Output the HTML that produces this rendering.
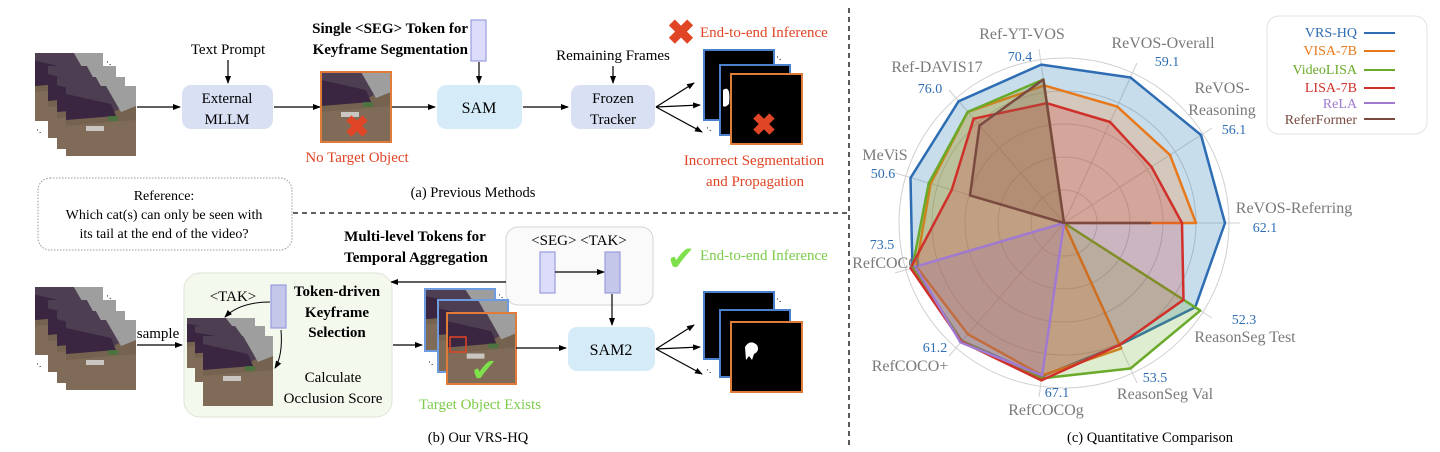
<!DOCTYPE html>
<html><head><meta charset="utf-8"><style>
html,body{margin:0;padding:0;background:#fff;}
svg{display:block;}
text{font-family:"Liberation Serif",serif;}
</style></head><body>
<svg width="1440" height="452" viewBox="0 0 1440 452" xmlns="http://www.w3.org/2000/svg">
<defs>
<marker id="ar" markerWidth="8" markerHeight="8" refX="7" refY="4" orient="auto" markerUnits="userSpaceOnUse"><path d="M0,1 L8,4 L0,7 z" fill="#000"/></marker>
<symbol id="fr" viewBox="0 0 70 70" preserveAspectRatio="none">
<rect width="70" height="70" fill="#76634f"/>
<path d="M0,0 H70 V14 L40,30 L0,34 z" fill="#4e3e52"/>
<path d="M0,8 L45,18 L50,30 L0,34 z" fill="#3a2640"/>
<path d="M40,0 H70 V20 L55,26 z" fill="#9e9e9e"/>
<path d="M0,40 L70,34 V70 H0 z" fill="#7f6b58"/>
<rect x="20" y="40" width="18" height="5" fill="#ddd" opacity=".8"/>
<rect x="42" y="30" width="10" height="5" fill="#3a7a3a" opacity=".7"/>
</symbol>
</defs>

<line x1="293" y1="213" x2="849" y2="213" stroke="#000" stroke-width="1.3" stroke-dasharray="5,4"/>
<line x1="849" y1="8" x2="849" y2="448" stroke="#000" stroke-width="1.3" stroke-dasharray="5,4"/>

<g>
<use href="#fr" x="35" y="53" width="68" height="68"/>
<use href="#fr" x="48" y="66" width="68" height="72"/>
<use href="#fr" x="57" y="77" width="68" height="72"/>
<use href="#fr" x="66" y="86" width="70" height="70"/>
<text x="106" y="65" font-size="9">·.</text><text x="36" y="133" font-size="9">·.</text>
</g>
<line x1="137" y1="107" x2="180" y2="107" stroke="#000" stroke-width="1.2" marker-end="url(#ar)"/>
<text x="228" y="54" font-size="15" text-anchor="middle">Text Prompt</text>
<line x1="228" y1="60" x2="228" y2="83" stroke="#000" stroke-width="1.2" marker-end="url(#ar)"/>
<rect x="182" y="85" width="91" height="44" rx="9" fill="#d9e0f3"/>
<text x="227" y="103" font-size="15" text-anchor="middle">External</text>
<text x="227" y="124" font-size="15" text-anchor="middle">MLLM</text>
<line x1="274" y1="107" x2="320" y2="107" stroke="#000" stroke-width="1.2" marker-end="url(#ar)"/>
<use href="#fr" x="321" y="72" width="70" height="70"/>
<rect x="321" y="72" width="70" height="70" fill="none" stroke="#e07b3a" stroke-width="2"/>
<text x="357" y="137" font-size="30" font-weight="bold" fill="#e04525" text-anchor="middle" font-family="Liberation Sans">✖</text>
<text x="357" y="162" font-size="15" fill="#e04525" text-anchor="middle">No Target Object</text>
<text x="468" y="33" font-size="15" font-weight="bold" text-anchor="end">Single &lt;SEG&gt; Token for</text>
<text x="468" y="54" font-size="15" font-weight="bold" text-anchor="end">Keyframe Segmentation</text>
<rect x="471" y="20" width="15" height="41" fill="#dcdcfb" stroke="#9a9de0" stroke-width="1.2"/>
<line x1="479" y1="62" x2="479" y2="83" stroke="#000" stroke-width="1.2" marker-end="url(#ar)"/>
<line x1="392" y1="107" x2="435" y2="107" stroke="#000" stroke-width="1.2" marker-end="url(#ar)"/>
<rect x="437" y="85" width="85" height="44" rx="9" fill="#d5ebf8"/>
<text x="479" y="113" font-size="16" text-anchor="middle">SAM</text>
<line x1="523" y1="107" x2="568" y2="107" stroke="#000" stroke-width="1.2" marker-end="url(#ar)"/>
<text x="613" y="60" font-size="15" text-anchor="middle">Remaining Frames</text>
<line x1="613" y1="66" x2="613" y2="83" stroke="#000" stroke-width="1.2" marker-end="url(#ar)"/>
<rect x="571" y="85" width="84" height="44" rx="9" fill="#d9e0f3"/>
<text x="613" y="103" font-size="15" text-anchor="middle">Frozen</text>
<text x="613" y="124" font-size="15" text-anchor="middle">Tracker</text>
<line x1="656" y1="107" x2="694" y2="83" stroke="#000" stroke-width="1.2" marker-end="url(#ar)"/>
<line x1="656" y1="107" x2="700" y2="105" stroke="#000" stroke-width="1.2" marker-end="url(#ar)"/>
<line x1="656" y1="107" x2="702" y2="132" stroke="#000" stroke-width="1.2" marker-end="url(#ar)"/>
<rect x="704" y="50" width="70" height="70" fill="#000" stroke="#4a80cc" stroke-width="2"/>
<rect x="720" y="65" width="70" height="70" fill="#000" stroke="#4a80cc" stroke-width="2"/>
<path d="M723,90 q8,-6 6,14 q-4,4 -6,2z" fill="#fff"/>
<rect x="731" y="74" width="71" height="70" fill="#000" stroke="#e07b3a" stroke-width="2"/>
<text x="764" y="135" font-size="30" font-weight="bold" fill="#e04525" text-anchor="middle" font-family="Liberation Sans">✖</text>
<text x="776" y="60" font-size="9">·.</text><text x="706" y="131" font-size="9">·.</text>
<text x="681" y="44" font-size="34" font-weight="bold" fill="#e04525" text-anchor="middle" font-family="Liberation Sans">✖</text>
<text x="700" y="37" font-size="15" fill="#e04525">End-to-end Inference</text>
<text x="754" y="165" font-size="15" fill="#e04525" text-anchor="middle">Incorrect Segmentation</text>
<text x="755" y="186" font-size="15" fill="#e04525" text-anchor="middle">and Propagation</text>
<text x="473" y="197" font-size="14.5" text-anchor="middle">(a) Previous Methods</text>

<rect x="38" y="178" width="254" height="72" rx="12" fill="#fff" stroke="#999" stroke-width="1" stroke-dasharray="1.5,1.5"/>
<text x="164" y="200" font-size="14" text-anchor="middle" font-family="Liberation Sans">Reference:</text>
<text x="164" y="219" font-size="14" text-anchor="middle" font-family="Liberation Sans">Which cat(s) can only be seen with</text>
<text x="164" y="238" font-size="14" text-anchor="middle" font-family="Liberation Sans">its tail at the end of the video?</text>

<text x="415" y="241" font-size="15" font-weight="bold" text-anchor="middle">Multi-level Tokens for</text>
<text x="416" y="262" font-size="15" font-weight="bold" text-anchor="middle">Temporal Aggregation</text>
<rect x="506" y="227" width="147" height="78" rx="12" fill="#fafafa" stroke="#d4d4d4"/>
<text x="579" y="245" font-size="15" text-anchor="middle">&lt;SEG&gt;  &lt;TAK&gt;</text>
<rect x="540" y="252" width="15" height="41" fill="#dcdcfb" stroke="#9a9de0" stroke-width="1.2"/>
<rect x="605" y="252" width="15" height="41" fill="#c4c6ea" stroke="#9a9de0" stroke-width="1.2"/>
<line x1="555" y1="272" x2="604" y2="272" stroke="#000" stroke-width="1.2" marker-end="url(#ar)"/>
<line x1="612" y1="294" x2="612" y2="325" stroke="#000" stroke-width="1.2" marker-end="url(#ar)"/>
<text x="681" y="270" font-size="34" fill="#7ee04a" text-anchor="middle" font-family="DejaVu Sans">✔</text>
<text x="700" y="260" font-size="15" fill="#7ccc4a">End-to-end Inference</text>
<line x1="506" y1="282" x2="391" y2="282" stroke="#000" stroke-width="1.2" marker-end="url(#ar)"/>

<g>
<use href="#fr" x="35" y="287" width="68" height="68"/>
<use href="#fr" x="48" y="300" width="68" height="72"/>
<use href="#fr" x="57" y="311" width="68" height="72"/>
<use href="#fr" x="66" y="320" width="70" height="70"/>
<text x="106" y="299" font-size="9">·.</text><text x="36" y="367" font-size="9">·.</text>
</g>
<text x="158" y="338" font-size="15" text-anchor="middle">sample</text>
<line x1="137" y1="345" x2="182" y2="345" stroke="#000" stroke-width="1.2" marker-end="url(#ar)"/>
<rect x="184" y="273" width="208" height="144" rx="16" fill="#f4f9ee" stroke="#dde3d6"/>
<text x="233" y="301" font-size="15" text-anchor="middle">&lt;TAK&gt;</text>
<rect x="271" y="285" width="15" height="43" fill="#c4c6ea" stroke="#9a9de0" stroke-width="1.2"/>
<path d="M270,302 Q240,302 225,317" fill="none" stroke="#000" stroke-width="1" marker-end="url(#ar)"/>
<path d="M281,330 Q283,355 275,368" fill="none" stroke="#000" stroke-width="1" marker-end="url(#ar)"/>
<use href="#fr" x="187" y="318" width="68" height="50"/>
<use href="#fr" x="195" y="326" width="70" height="56"/>
<use href="#fr" x="203" y="336" width="70" height="70"/>
<text x="337" y="296" font-size="15" font-weight="bold" text-anchor="middle">Token-driven</text>
<text x="337" y="317" font-size="15" font-weight="bold" text-anchor="middle">Keyframe</text>
<text x="337" y="337" font-size="15" font-weight="bold" text-anchor="middle">Selection</text>
<text x="333" y="382" font-size="15" text-anchor="middle">Calculate</text>
<text x="333" y="403" font-size="15" text-anchor="middle">Occlusion Score</text>
<line x1="393" y1="345" x2="422" y2="345" stroke="#000" stroke-width="1.2" marker-end="url(#ar)"/>
<use href="#fr" x="425" y="289" width="70" height="62"/>
<rect x="425" y="289" width="70" height="62" fill="none" stroke="#6d9be0" stroke-width="2"/>
<use href="#fr" x="438" y="300" width="70" height="72"/>
<rect x="438" y="300" width="70" height="72" fill="none" stroke="#6d9be0" stroke-width="2"/>
<use href="#fr" x="447" y="313" width="69" height="71"/>
<rect x="447" y="313" width="69" height="71" fill="none" stroke="#e07b3a" stroke-width="2"/>
<rect x="450" y="337" width="16" height="15" fill="none" stroke="#e04525" stroke-width="1.5"/>
<text x="484" y="381" font-size="32" fill="#7ee04a" text-anchor="middle" font-family="DejaVu Sans">✔</text>
<text x="498" y="298" font-size="9">·.</text><text x="428" y="365" font-size="9">·.</text>
<text x="480" y="409" font-size="15" fill="#7ccc4a" text-anchor="middle">Target Object Exists</text>
<line x1="516" y1="348" x2="566" y2="348" stroke="#000" stroke-width="1.2" marker-end="url(#ar)"/>
<rect x="568" y="327" width="87" height="44" rx="9" fill="#d5ebf8"/>
<text x="611" y="355" font-size="16" text-anchor="middle">SAM2</text>
<line x1="656" y1="349" x2="694" y2="325" stroke="#000" stroke-width="1.2" marker-end="url(#ar)"/>
<line x1="656" y1="349" x2="700" y2="347" stroke="#000" stroke-width="1.2" marker-end="url(#ar)"/>
<line x1="656" y1="349" x2="702" y2="374" stroke="#000" stroke-width="1.2" marker-end="url(#ar)"/>
<rect x="704" y="292" width="70" height="67" fill="#000" stroke="#4a80cc" stroke-width="2"/>
<rect x="720" y="310" width="70" height="67" fill="#000" stroke="#4a80cc" stroke-width="2"/>
<rect x="731" y="322" width="71" height="70" fill="#000" stroke="#e07b3a" stroke-width="2"/>
<path d="M745,347 q5,-8 12,-2 q3,6 -3,9 l-2,6 l-3,-4 l-3,4 z" fill="#fff"/>
<text x="776" y="302" font-size="9">·.</text><text x="706" y="373" font-size="9">·.</text>
<text x="478" y="442" font-size="14.5" text-anchor="middle">(b) Our VRS-HQ</text>

<g stroke="#d0d0d0" fill="none" stroke-width="1">
<circle cx="1064" cy="223" r="33"/><circle cx="1064" cy="223" r="66"/><circle cx="1064" cy="223" r="99"/><circle cx="1064" cy="223" r="132"/><circle cx="1064" cy="223" r="165"/>
<line x1="1064" y1="223" x2="1240" y2="223"/>
<line x1="1064" y1="223" x2="1212" y2="128"/>
<line x1="1064" y1="223" x2="1137" y2="63"/>
<line x1="1064" y1="223" x2="1039" y2="49"/>
<line x1="1064" y1="223" x2="949" y2="90"/>
<line x1="1064" y1="223" x2="895" y2="173"/>
<line x1="1064" y1="223" x2="895" y2="273"/>
<line x1="1064" y1="223" x2="949" y2="356"/>
<line x1="1064" y1="223" x2="1039" y2="397"/>
<line x1="1064" y1="223" x2="1137" y2="383"/>
<line x1="1064" y1="223" x2="1212" y2="318"/>
</g>
<g stroke-width="2.5" stroke-linejoin="round">
<polygon points="1225,223 1201,135 1130.5,77.5 1041.2,64.6 958.6,101.3 910.5,177.9 912.4,267.5 961.8,340.9 1041.9,376.4 1119.7,344.9 1195.2,307.3" fill="#1f77b4" fill-opacity="0.25" stroke="#2e6db3"/>
<polygon points="1196,223 1170,154.9 1117.2,106.6 1044.2,85.4 967.7,111.9 930.6,183.8 916.2,266.4 967.7,334.1 1042.1,375.4 1121.3,348.5 1064,223" fill="#ff7f0e" fill-opacity="0.22" stroke="#e8781c"/>
<polygon points="1064,223 1064,223 1064,223 1043.4,79.5 967.7,111.9 928.7,183.3 912.4,267.5 961.8,340.9 1041.7,378.4 1130.5,368.5 1200.3,310.6" fill="#6aaa2a" fill-opacity="0.22" stroke="#6aaa2a"/>
<polygon points="1182,223 1151.5,166.8 1110.1,122 1046.8,103.2 973.6,118.7 951.7,190 910.5,268.1 961.2,341.6 1041.4,380.4 1119.7,344.9 1183.5,299.8" fill="#d62728" fill-opacity="0.22" stroke="#d0302a"/>
<polygon points="1064,223 915.3,266.7 960.5,342.4 1042.1,375.4" fill="#9467bd" fill-opacity="0.2" stroke="#a07ad0"/>
<polygon points="1150,223 1064,223 1064,223 1043.4,79.5 979.5,125.5 970,195.4 1064,223" fill="#8c564b" fill-opacity="0.25" stroke="#7a4a40"/>
</g>
<g font-size="16" fill="#7a7a7a">
<text x="1022" y="39" text-anchor="middle">Ref-YT-VOS</text>
<text x="1163" y="48" text-anchor="middle">ReVOS-Overall</text>
<text x="937" y="72" text-anchor="middle">Ref-DAVIS17</text>
<text x="1222" y="93" text-anchor="middle">ReVOS-</text>
<text x="1222" y="115" text-anchor="middle">Reasoning</text>
<text x="885" y="160" text-anchor="middle">MeViS</text>
<text x="1294" y="213" text-anchor="middle">ReVOS-Referring</text>
<text x="886" y="268" text-anchor="middle">RefCOCO</text>
<text x="1245" y="342" text-anchor="middle">ReasonSeg Test</text>
<text x="910" y="371" text-anchor="middle">RefCOCO+</text>
<text x="1165" y="399" text-anchor="middle">ReasonSeg Val</text>
<text x="1046" y="415" text-anchor="middle">RefCOCOg</text>
</g>
<g font-size="14" fill="#2e6db3">
<text x="1020" y="61" text-anchor="middle">70.4</text>
<text x="1167" y="66" text-anchor="middle">59.1</text>
<text x="930" y="93" text-anchor="middle">76.0</text>
<text x="1234" y="134" text-anchor="middle">56.1</text>
<text x="883" y="178" text-anchor="middle">50.6</text>
<text x="1265" y="232" text-anchor="middle">62.1</text>
<text x="882" y="249" text-anchor="middle">73.5</text>
<text x="1244" y="324" text-anchor="middle">52.3</text>
<text x="935" y="352" text-anchor="middle">61.2</text>
<text x="1155" y="382" text-anchor="middle">53.5</text>
<text x="1057" y="397" text-anchor="middle">67.1</text>
</g>
<rect x="1267" y="16" width="160" height="118" rx="12" fill="#fff" stroke="#e2e2e2"/>
<g font-size="14" text-anchor="end">
<text x="1357" y="37" fill="#2e6db3">VRS-HQ</text>
<text x="1357" y="55" fill="#e8781c">VISA-7B</text>
<text x="1357" y="74" fill="#6aaa2a">VideoLISA</text>
<text x="1357" y="92" fill="#d0302a">LISA-7B</text>
<text x="1357" y="108" fill="#a07ad0">ReLA</text>
<text x="1357" y="124" fill="#7a4a40">ReferFormer</text>
</g>
<g stroke-width="2">
<line x1="1364" y1="33" x2="1395" y2="33" stroke="#2e6db3"/>
<line x1="1364" y1="51" x2="1395" y2="51" stroke="#e8781c"/>
<line x1="1364" y1="70" x2="1395" y2="70" stroke="#6aaa2a"/>
<line x1="1364" y1="88" x2="1395" y2="88" stroke="#d0302a"/>
<line x1="1364" y1="103" x2="1395" y2="103" stroke="#a07ad0"/>
<line x1="1364" y1="119" x2="1395" y2="119" stroke="#7a4a40"/>
</g>
<text x="1150" y="442" font-size="14.5" text-anchor="middle">(c) Quantitative Comparison</text>
</svg>
</body></html>
